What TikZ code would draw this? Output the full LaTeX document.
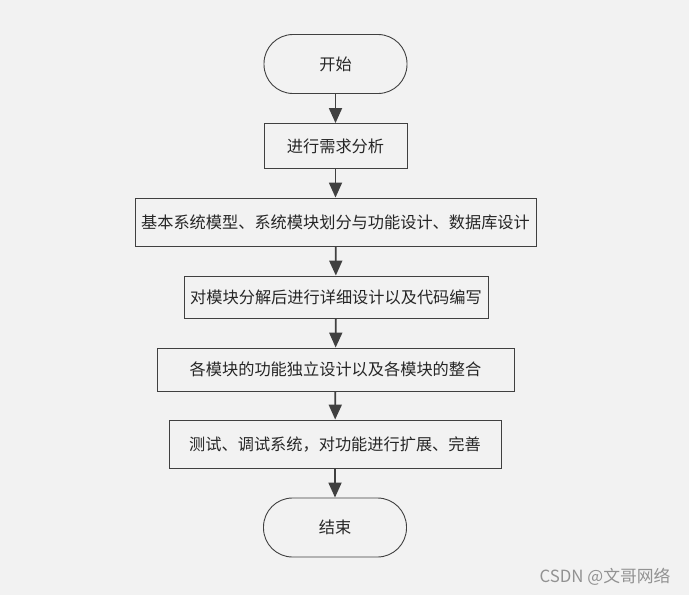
\documentclass[tikz,border=0pt]{standalone}
\usepackage{fontspec}
\setmainfont{Noto Sans CJK SC}
\newfontfamily\wmfont{Noto Sans CJK SC}
\usetikzlibrary{arrows.meta}

\definecolor{bggray}{HTML}{F2F2F2}
\definecolor{linegray}{HTML}{404040}
\definecolor{wmgray}{HTML}{929292}

\begin{document}
\begin{tikzpicture}[x=1pt, y=-1pt,
    every node/.style={font=\fontsize{16.2}{19}\selectfont, text=black!85},
    terminal/.style={draw=linegray, line width=0.9pt, fill=bggray, rounded corners=29pt,
        minimum width=143pt, minimum height=59pt, inner sep=0pt},
    stepbox/.style={draw=linegray, line width=0.9pt, fill=bggray,
        minimum height=45pt, inner sep=0pt},
    flow/.style={draw=linegray, line width=1.8pt, -{Triangle[width=13pt, length=15pt]}}]
    % background
    \fill[bggray] (0,0) rectangle (689,595);
    \useasboundingbox (0,0) rectangle (689,595);
    % Terminals and steps
    \node[terminal] (start) at (335.5,64) {开始};
    \node[stepbox, minimum width=143pt] (req) at (335.5,146) {进行需求分析};
    \node[stepbox, minimum width=401pt, minimum height=48pt] (design) at (335.5,222) {基本系统模型、系统模块划分与功能设计、数据库设计};
    \node[stepbox, minimum width=304pt, minimum height=42pt] (detail) at (336,297) {对模块分解后进行详细设计以及代码编写};
    \node[stepbox, minimum width=357pt, minimum height=43pt] (merge) at (335.5,369.5) {各模块的功能独立设计以及各模块的整合};
    \node[stepbox, minimum width=332pt, minimum height=48pt] (test) at (335,444) {测试、调试系统，对功能进行扩展、完善};
    \node[terminal] (stop) at (335,527.5) {结束};
    % Connectors
    \draw[flow] (start) -- (req);
    \draw[flow] (req) -- (design);
    \draw[flow] (design) -- (detail);
    \draw[flow] (detail) -- (merge);
    \draw[flow] (merge) -- (test);
    \draw[flow] (test) -- (stop);
    % Watermark
    \node[text=wmgray, anchor=east, font=\wmfont\fontsize{16.8}{19}\selectfont] (mark) at (674,577) {CSDN @文哥网络};
\end{tikzpicture}
\end{document}
